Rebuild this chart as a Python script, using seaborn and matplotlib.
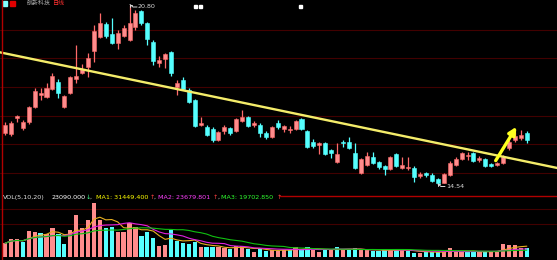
import numpy as np
import pandas as pd
import matplotlib
matplotlib.use("Agg")
import matplotlib.pyplot as plt
from matplotlib import font_manager
from matplotlib.patches import Rectangle, FancyArrowPatch
from matplotlib.lines import Line2D
import seaborn as sns

# ---------------- data ----------------
opens = [16.32, 16.29, 16.85, 16.50, 16.71, 17.23, 17.65, 17.58, 17.86, 18.11,
         17.23, 17.72, 18.21, 18.42, 18.63, 19.19, 19.68, 20.14, 19.79, 19.47,
         19.72, 19.58, 20.03, 20.59, 20.17, 19.51, 18.77, 18.91, 19.16, 17.93,
         18.18, 17.83, 17.48, 16.60, 16.53, 16.46, 16.08, 16.39, 16.50, 16.39,
         16.74, 16.88, 16.60, 16.60, 16.32, 16.18, 16.67, 16.46, 16.44, 16.46,
         16.81, 16.39, 16.00, 15.90, 15.97, 15.73, 15.31, 16.00, 16.00, 15.62,
         14.92, 15.20, 15.48, 15.31, 15.17, 15.06, 15.59, 15.10, 15.10, 15.10,
         14.82, 14.92, 14.85, 14.71, 14.57, 14.85, 15.20, 15.41, 15.50, 15.62,
         15.38, 15.41, 15.24, 15.20, 15.27, 15.80, 16.08, 16.15, 16.32]
highs = [16.70, 16.74, 16.95, 16.78, 17.27, 17.90, 17.90, 18.07, 18.42, 18.21,
         17.65, 18.32, 19.40, 18.74, 19.12, 20.10, 20.52, 20.21, 20.35, 19.93,
         20.10, 20.80, 20.63, 20.63, 20.21, 19.58, 19.02, 19.12, 19.19, 18.18,
         18.28, 17.90, 17.51, 16.88, 16.60, 16.53, 16.39, 16.60, 16.53, 16.85,
         17.13, 16.92, 16.74, 16.67, 16.39, 16.57, 16.78, 16.60, 16.57, 16.78,
         16.85, 16.43, 16.11, 16.00, 16.00, 15.76, 15.97, 16.08, 16.18, 15.97,
         15.45, 15.66, 15.66, 15.34, 15.20, 15.52, 15.62, 15.48, 15.48, 15.17,
         14.96, 14.96, 14.92, 14.75, 14.92, 15.34, 15.48, 15.66, 15.66, 15.66,
         15.52, 15.45, 15.27, 15.31, 15.55, 16.08, 16.36, 16.43, 16.39]
lows = [16.25, 16.22, 16.71, 16.43, 16.64, 17.20, 17.48, 17.55, 17.83, 17.55,
        17.20, 17.69, 18.07, 18.39, 18.28, 18.80, 19.64, 19.64, 19.44, 19.26,
        19.68, 19.54, 19.93, 20.10, 19.40, 18.70, 18.63, 18.60, 18.32, 17.65,
        17.83, 17.37, 16.53, 16.57, 16.22, 16.00, 16.04, 16.29, 16.25, 16.36,
        16.71, 16.53, 16.53, 16.18, 16.11, 16.15, 16.46, 16.36, 16.32, 16.43,
        16.43, 15.80, 15.80, 15.59, 15.55, 15.45, 15.27, 15.83, 15.76, 15.06,
        14.89, 15.17, 15.24, 15.06, 14.85, 15.03, 15.13, 15.06, 15.03, 14.61,
        14.75, 14.78, 14.61, 14.54, 14.56, 14.82, 15.17, 15.38, 15.38, 15.31,
        15.31, 15.13, 15.13, 15.17, 15.24, 15.73, 16.01, 16.08, 15.97]
closes = [16.60, 16.67, 16.92, 16.71, 17.23, 17.79, 17.72, 17.90, 18.32, 17.72,
          17.62, 18.28, 18.32, 18.56, 18.95, 19.89, 20.17, 19.72, 19.47, 19.82,
          19.99, 20.17, 20.52, 20.17, 19.61, 18.84, 18.88, 19.09, 18.42, 18.07,
          17.86, 17.41, 16.57, 16.67, 16.25, 16.08, 16.36, 16.53, 16.32, 16.81,
          16.88, 16.57, 16.67, 16.32, 16.18, 16.53, 16.53, 16.57, 16.46, 16.74,
          16.46, 15.83, 15.87, 15.97, 15.59, 15.62, 15.59, 15.97, 15.80, 15.10,
          15.41, 15.52, 15.27, 15.13, 15.06, 15.48, 15.17, 15.20, 15.13, 14.78,
          14.89, 14.85, 14.64, 14.57, 14.89, 15.27, 15.41, 15.62, 15.53, 15.34,
          15.45, 15.17, 15.17, 15.27, 15.48, 16.00, 16.22, 16.25, 16.08]
volumes = [36850, 48700, 48700, 41250, 71500, 68750, 64350, 62400, 78100, 62400,
           34900, 73400, 114700, 78100, 100900, 148500, 100900, 78100, 82500, 68750,
           68750, 93500, 82500, 56900, 68750, 50600, 30250, 32200, 73400, 44000,
           36850, 34100, 41250, 27500, 25850, 25850, 27500, 23100, 20350, 29400,
           29400, 20350, 13750, 20350, 16500, 19250, 16500, 18400, 18400, 27500,
           20350, 27500, 18400, 13750, 20350, 18400, 27500, 18400, 18400, 23100,
           18400, 18400, 16500, 16500, 18400, 18400, 18400, 18400, 16500, 11000,
           9350, 13750, 13750, 13750, 13750, 23100, 13750, 13750, 13750, 13750,
           13750, 13750, 13750, 16500, 34100, 32200, 32200, 23100, 23090]

ma_windows = [5, 10, 20]
price_grid = [19.93, 18.94, 17.93, 16.92, 15.93, 14.92]
vol_grid = [90000, 130000]
trend_x = [-1, 93.5]
trend_y = [19.15, 15.08]
arrow_from = (82.5, 15.27)
arrow_to = (86.5, 16.62)
high_label = "20.80"
low_label = "14.54"
title_name = "航新科技"
title_period = "日线"
vol_texts = [("VOL(5,10,20)", 3, "#e0e0e0"), ("23090.000", 52, "#ffffff"),
             ("↓", 86, "#40ff90"), (",", 90, "#e0e0e0"),
             ("MA1: 31449.400", 96, "#ffff00"), ("↑", 150, "#ff4040"), (",", 154, "#e0e0e0"),
             ("MA2: 23679.801", 158, "#ff40ff"), ("↑", 213, "#ff4040"), (",", 217, "#e0e0e0"),
             ("MA3: 19702.850", 221, "#30ff30"), ("↑", 277, "#ff4040")]

# ---------------- styling ----------------
sns.set_theme(style="dark", rc={"axes.facecolor": "black", "figure.facecolor": "black",
                                "savefig.facecolor": "black"})
names = {f.name for f in font_manager.fontManager.ttflist}
if "Liberation Sans Narrow" in names:
    num_family = ["Liberation Sans Narrow", "DejaVu Sans"]
    num_size = 6.0
else:
    num_family = ["DejaVu Sans"]
    num_size = 4.6
plt.rcParams["font.family"] = ["Noto Sans CJK SC", "DejaVu Sans"]

UP = "#ff8c8c"
UP_WICK = "#ff6a6a"
DOWN = "#55ffff"
GRID = "#420000"
W, H = 557, 260
fig = plt.figure(figsize=(W / 100, H / 100), dpi=100)


def fx(px):
    return px / W


def fy(py):
    return 1 - py / H


n = len(closes)
idx = np.arange(n)
df = pd.DataFrame({"i": idx, "open": opens, "high": highs, "low": lows,
                   "close": closes, "vol": volumes})
prev_close = df["close"].shift(1).fillna(df["open"])
df["dir"] = np.where(df["close"] >= prev_close, "up", "down")
candle_up = df["close"] >= df["open"]

px_per_bar = 5.93
x0 = -5 / px_per_bar
x1 = (W - 5) / px_per_bar

# ---------------- price panel ----------------
ax = fig.add_axes([0, fy(195), 1, 195 / H])
ax.set_facecolor("black")
for p in price_grid:
    ax.axhline(p, color=GRID, lw=0.8, zorder=0)

for i in range(n):
    col = UP if candle_up[i] else DOWN
    wcol = UP_WICK if candle_up[i] else DOWN
    ax.vlines(i, lows[i], highs[i], color=wcol, lw=0.9, zorder=2)
    lo = min(opens[i], closes[i])
    h = max(abs(closes[i] - opens[i]), 0.035)
    ax.bar(i, h, bottom=lo, width=0.68, color=col, edgecolor=wcol, linewidth=0.4, zorder=3)

sns.lineplot(x=trend_x, y=trend_y, color="#f4ec6a", linewidth=1.7, ax=ax, zorder=4)
ax.add_patch(FancyArrowPatch(arrow_from, arrow_to, arrowstyle="-|>", mutation_scale=11,
                             color="#ffff20", linewidth=2.4, zorder=5))
ax.set_xlim(x0, x1)
ax.set_ylim(20.975 - 195 * 0.035, 20.975)
ax.set_xticks([])
ax.set_yticks([])
for s in ax.spines.values():
    s.set_visible(False)

# ---------------- volume panel ----------------
axv = fig.add_axes([0, 0, 1, 65 / H])
axv.set_facecolor("black")
for v in vol_grid:
    axv.axhline(v, color=GRID, lw=0.8, zorder=0)
sns.barplot(data=df, x="i", y="vol", hue="dir", palette={"up": UP, "down": DOWN},
            native_scale=True, width=0.72, saturation=1, dodge=False, legend=False,
            errorbar=None, linewidth=0, ax=axv, zorder=2)
ma_colors = ["#e8b020", "#e020e0", "#10c010"]
for w, c in zip(ma_windows, ma_colors):
    ma = df["vol"].rolling(w, min_periods=1).mean()
    sns.lineplot(x=idx, y=ma.values, color=c, linewidth=0.8, ax=axv, zorder=3)
axv.set_xlim(x0, x1)
axv.set_ylim(-(260 - 256.7) * 2750, (256.7 - 195) * 2750)
axv.set_xticks([])
axv.set_yticks([])
axv.set_xlabel("")
axv.set_ylabel("")
for s in axv.spines.values():
    s.set_visible(False)

# ---------------- frame lines ----------------
fig.add_artist(Line2D([fx(2), fx(2)], [0, 1], color="#b00000", lw=1.0))
fig.add_artist(Line2D([fx(280), 1], [fy(195.5), fy(195.5)], color="#b00000", lw=1.0))

# ---------------- texts ----------------
fig.add_artist(Rectangle((fx(3), fy(6)), 4 / W, 5 / H, color="#80ffff"))
fig.add_artist(Rectangle((fx(10), fy(6)), 5 / W, 5 / H, color="#e00000"))
fig.text(fx(27), fy(3.5), title_name, color="#a8a8a8", fontsize=4.3, va="center", ha="left",
         family=["Noto Sans CJK SC"])
fig.text(fx(52.5), fy(3.5), title_period, color="#ff3030", fontsize=4.3, va="center", ha="left",
         family=["Noto Sans CJK SC"])
for (sx, sy) in [(193.5, 4.7), (199, 4.7), (299, 4.7)]:
    fig.add_artist(Rectangle((fx(sx), fy(sy + 2.8)), 3.4 / W, 2.8 / H, color="#ffffff"))

for txt, x, c in vol_texts:
    fig.text(fx(x), fy(197.5), txt, color=c, fontsize=num_size, va="center", ha="left",
             family=num_family)

# high / low markers
for (tip, knee, end, tx, ty, lab) in [((130, 4.5), (133, 7), (137, 7), 138, 7, high_label),
                                      ((438, 184), (441, 186.5), (445, 186.5), 446, 186.5, low_label)]:
    fig.add_artist(Line2D([fx(tip[0]), fx(knee[0]), fx(end[0])],
                          [fy(tip[1]), fy(knee[1]), fy(end[1])], color="#d8d8d8", lw=0.7))
    fig.add_artist(Line2D([fx(tip[0]), fx(tip[0] + 2.2)], [fy(tip[1]), fy(tip[1])],
                          color="#d8d8d8", lw=0.7))
    fig.add_artist(Line2D([fx(tip[0]), fx(tip[0])], [fy(tip[1]), fy(tip[1] + 2.2)],
                          color="#d8d8d8", lw=0.7))
    fig.text(fx(tx), fy(ty), lab, color="#d8d8d8", fontsize=num_size, va="center", ha="left",
             family=num_family)

fig.savefig("out.png", dpi=100, facecolor="black")
